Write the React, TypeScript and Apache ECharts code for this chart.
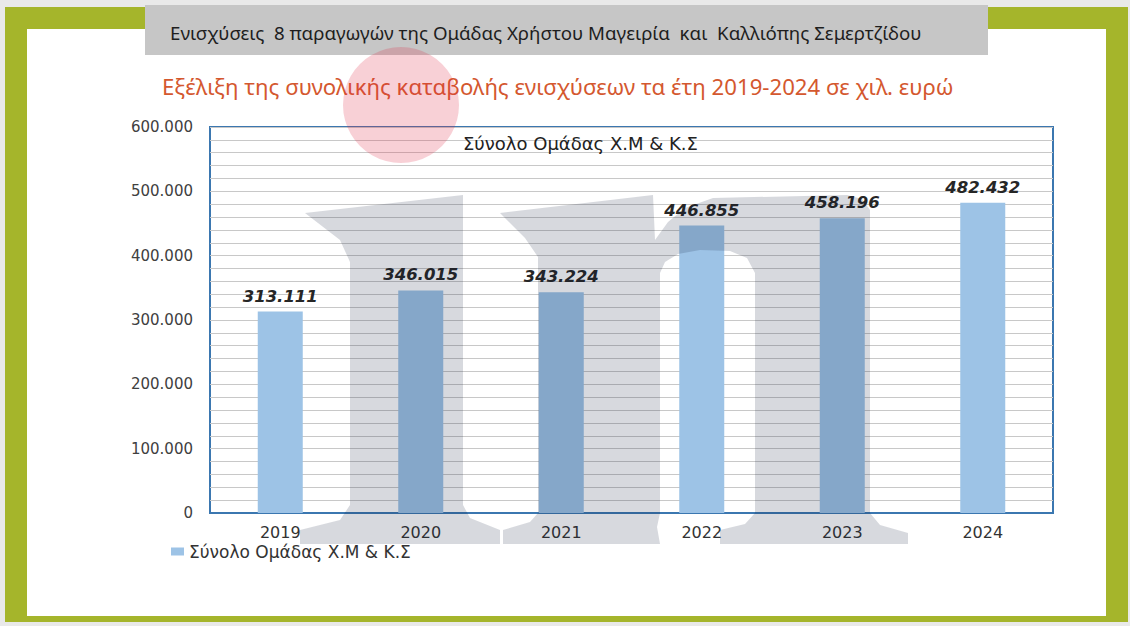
import React, { useEffect, useRef } from "react";
import * as echarts from "echarts";

const years = ["2019", "2020", "2021", "2022", "2023", "2024"];
const totals = [313111, 346015, 343224, 446855, 458196, 482432];
const seriesName = "Σύνολο Ομάδας Χ.Μ & Κ.Σ";
const headerText = "Ενισχύσεις  8 παραγωγών της Ομάδας Χρήστου Μαγειρία  και  Καλλιόπης Σεμερτζίδου";
const mainTitle = "Εξέλιξη της συνολικής καταβολής ενισχύσεων τα έτη 2019-2024 σε χιλ. ευρώ";

const fmt = (v: number) => String(Math.round(v)).replace(/\B(?=(\d{3})+(?!\d))/g, ".");

const WM = "rgba(20,30,60,0.17)";

export default function App() {
  const ref = useRef<HTMLDivElement>(null);
  useEffect(() => {
    if (!ref.current) return;
    const chart = echarts.init(ref.current, null, { renderer: "svg" });
    chart.setOption({
      animation: false,
      title: [
        {
          text: seriesName,
          left: 458,
          top: 129,
          textStyle: { fontFamily: "DejaVu Sans", fontSize: 18, fontWeight: "normal", color: "#222" },
        },
      ],
      legend: {
        left: 166,
        top: 538,
        icon: "rect",
        itemWidth: 13,
        itemHeight: 8,
        textStyle: { fontFamily: "DejaVu Sans", fontSize: 17, color: "#333" },
        data: [seriesName],
      },
      grid: {
        left: 210,
        right: 77,
        top: 127,
        bottom: 113,
        show: true,
        backgroundColor: "#ffffff",
        borderColor: "#3b77b0",
        borderWidth: 2,
      },
      xAxis: {
        type: "category",
        data: years,
        axisLine: { show: true, lineStyle: { color: "#3b77b0", width: 2 } },
        axisTick: { show: false },
        axisLabel: { fontFamily: "DejaVu Sans", fontSize: 16, color: "#333", margin: 11 },
      },
      yAxis: {
        type: "value",
        min: 0,
        max: 600000,
        interval: 100000,
        axisLine: { show: false },
        axisTick: { show: false },
        axisLabel: {
          fontFamily: "DejaVu Sans",
          fontSize: 15,
          color: "#404040",
          margin: 17,
          formatter: (v: number) => fmt(v),
        },
        splitLine: { show: true, lineStyle: { color: "#c8c8c8", width: 1 } },
        minorTick: { show: false, splitNumber: 5 },
        minorSplitLine: { show: true, lineStyle: { color: "#c8c8c8", width: 1 } },
      },
      series: [
        {
          name: seriesName,
          type: "bar",
          data: totals,
          barWidth: 45,
          itemStyle: { color: "#9dc3e6" },
          label: {
            show: true,
            position: "top",
            distance: 7,
            fontFamily: "DejaVu Sans",
            fontSize: 16.5,
            fontWeight: "bold",
            fontStyle: "italic",
            color: "#262626",
            formatter: (p: any) => fmt(p.value),
          },
        },
      ],
      graphic: [
        {
          type: "text",
          x: 170,
          y: 32,
          z: 50,
          style: {
            text: headerText,
            fontFamily: "Noto Sans",
            fontSize: 18.7,
            fill: "#1e1e1e",
            verticalAlign: "middle",
          },
        },
        {
          type: "text",
          x: 162,
          y: 86,
          z: 50,
          style: {
            text: mainTitle,
            fontFamily: "Noto Sans",
            fontSize: 22.2,
            fill: "#d4582f",
            verticalAlign: "middle",
          },
        },
        // watermark: pink dot
        { type: "circle", z: 100, shape: { cx: 401, cy: 105, r: 58 }, style: { fill: "rgba(225,40,70,0.22)" } },
        // watermark: "i"
        {
          type: "polygon",
          z: 100,
          shape: {
            smooth: 0,
            points: [
              [305, 213], [463, 195], [463, 505], [470, 518], [500, 530], [500, 544],
              [300, 544], [300, 530], [340, 520], [350, 505], [350, 262], [340, 240],
            ],
          },
          style: { fill: WM },
        },
        // watermark: "n"
        {
          type: "polygon",
          z: 100,
          shape: {
            points: [
              [500, 213], [653, 195], [655, 240], [668, 222], [685, 208], [713, 198],
              [847, 195], [862, 199], [870, 210],
              [870, 513], [880, 525], [908, 533], [908, 544], [720, 544], [720, 530],
              [745, 524], [755, 513],
              [755, 273], [747, 258], [730, 251], [700, 250], [678, 254], [665, 262], [660, 273],
              [660, 513], [657, 527], [660, 544], [503, 544], [503, 530], [530, 522], [538, 513],
              [538, 257], [525, 238],
            ],
          },
          style: { fill: WM },
        },
      ],
    });
    return () => chart.dispose();
  }, []);

  return (
    <div style={{ position: "fixed", left: 0, top: 0, width: 1130, height: 626, background: "#e9e9e9", overflow: "hidden" }}>
      <div style={{ position: "absolute", left: 5, top: 7, width: 1123, height: 615, background: "#a5b52b" }} />
      <div style={{ position: "absolute", left: 27, top: 29, width: 1079, height: 587, background: "#ffffff" }} />
      <div style={{ position: "absolute", left: 145, top: 5, width: 843, height: 50, background: "#c6c6c6" }} />
      <div ref={ref} style={{ position: "absolute", left: 0, top: 0, width: 1130, height: 626 }} />
    </div>
  );
}
